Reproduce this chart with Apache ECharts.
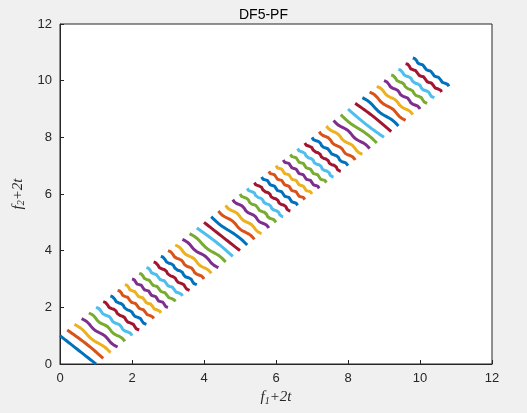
<!DOCTYPE html>
<html><head><meta charset="utf-8">
<script src="https://cdn.jsdelivr.net/npm/echarts@6/dist/echarts.min.js"></script>
<style>html,body{margin:0;background:#f0f0f0}#c{width:527px;height:413px}</style>
</head><body><div id="c"></div>
<script>
// time steps of the DF5 front, one curve each
const timeSteps = Array.from({ length: 50 }, (_, i) => +(i * 0.1).toFixed(1));
const colors = ['#0072BD', '#D95319', '#EDB120', '#7E2F8E', '#77AC30', '#4DBEEE', '#A2142F'];
const samples = 100;

// DF5 Pareto front at time t, shifted by 2t on both objectives
function front(t) {
  const w = Math.floor(10 * Math.sin(0.5 * Math.PI * t));
  const pts = [];
  for (let i = 0; i <= samples; i++) {
    const x = i / samples;
    const s = 0.02 * Math.sin(w * Math.PI * x);
    pts.push([x + s + 2 * t, 1 - x + s + 2 * t]);
  }
  return pts;
}

const rich = {
  i: { fontFamily: 'Liberation Serif', fontStyle: 'italic', fontSize: 15, color: '#262626' },
  s: { fontFamily: 'Liberation Serif', fontStyle: 'italic', fontSize: 10, color: '#262626', verticalAlign: 'bottom', padding: [8, 0, 0, 0] }
};
const axisCommon = {
  type: 'value', min: 0, max: 12, interval: 2,
  axisLine: { show: true, lineStyle: { color: '#262626' } },
  axisTick: { show: true, inside: true, length: 4, lineStyle: { color: '#262626' } },
  axisLabel: { color: '#262626', fontSize: 13, fontFamily: 'Liberation Sans' },
  splitLine: { show: false }
};

const chart = echarts.init(document.getElementById('c'));
chart.setOption({
  backgroundColor: '#f0f0f0',
  title: { text: 'DF5-PF', left: 'center', top: 3, textStyle: { fontSize: 14, fontWeight: 'normal', color: '#000', fontFamily: 'Liberation Sans' } },
  grid: { left: 60, right: 35, top: 24, bottom: 49, backgroundColor: '#fff', show: true, borderWidth: 1, borderColor: '#262626' },
  xAxis: Object.assign({}, axisCommon, {
    name: '{i|f}{s|1}{i|+2t}', nameLocation: 'middle', nameGap: 24, nameTextStyle: { rich }
  }),
  yAxis: Object.assign({}, axisCommon, {
    name: '{i|f}{s|2}{i|+2t}', nameLocation: 'middle', nameGap: 27, nameRotate: 90, nameTextStyle: { rich }
  }),
  series: timeSteps.map((t, i) => ({
    type: 'line', data: front(t), showSymbol: false, animation: false,
    lineStyle: { width: 3, color: colors[i % colors.length] }
  }))
});
</script></body></html>
